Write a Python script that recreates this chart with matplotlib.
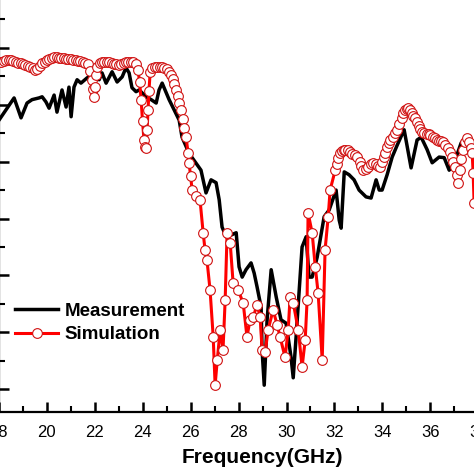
import matplotlib
matplotlib.use("Agg")
import matplotlib.pyplot as plt
from matplotlib.ticker import MultipleLocator

plt.rcParams['font.family'] = ['Liberation Sans', 'DejaVu Sans']

# --- DATA ---
meas_freq = [18.00, 18.63, 18.92, 19.17, 19.38, 19.67, 19.80, 19.96, 20.09, 20.30,
             20.42, 20.63, 20.80, 20.92, 21.01, 21.13, 21.26, 21.42, 21.67, 21.88,
             22.18, 22.30, 22.47, 22.72, 22.93, 23.14, 23.30, 23.43, 23.55, 23.72,
             23.85, 24.14, 24.35, 24.56, 24.68, 24.81, 25.10, 25.31, 25.52, 25.64,
             25.93, 26.06, 26.43, 26.64, 26.85, 27.06, 27.19, 27.31, 27.48, 27.69,
             27.90, 28.02, 28.15, 28.31, 28.52, 28.65, 28.77, 28.94, 28.98, 29.07,
             29.19, 29.36, 29.57, 29.77, 29.98, 30.19, 30.28, 30.40, 30.53, 30.65,
             30.82, 30.94, 31.07, 31.28, 31.57, 31.78, 32.07, 32.20, 32.28, 32.41,
             32.61, 32.82, 33.03, 33.32, 33.53, 33.74, 33.87, 33.99, 34.20, 34.41,
             34.62, 34.91, 35.20, 35.45, 35.62, 35.87, 36.08, 36.37, 36.58, 36.79,
             37.04, 37.29, 37.50, 37.75, 37.90]
meas_val = [-12.7, -8.8, -12.3, -9.7, -9.1, -8.8, -8.6, -9.5, -10.6, -8.3,
            -11.3, -7.4, -10.4, -6.9, -12.1, -6.9, -5.6, -6.2, -5.3, -4.7,
            -5.6, -4.4, -6.2, -4.2, -6.0, -5.1, -3.5, -4.4, -7.0, -7.7,
            -7.4, -8.6, -9.1, -9.7, -7.4, -6.2, -9.1, -10.9, -12.7, -15.7,
            -18.5, -19.3, -21.5, -25.5, -23.2, -23.7, -26.7, -31.5, -33.2, -32.9,
            -32.5, -38.5, -40.3, -39.0, -37.8, -39.6, -42.0, -45.6, -53.1, -59.3,
            -47.8, -39.0, -43.8, -47.8, -48.4, -54.4, -58.0, -50.8, -42.6, -35.0,
            -33.2, -40.3, -40.3, -36.8, -29.7, -28.5, -25.0, -30.3, -31.7, -21.8,
            -22.3, -23.2, -25.0, -26.2, -26.4, -23.2, -25.0, -25.0, -22.3, -19.2,
            -17.1, -14.4, -21.1, -16.2, -15.7, -17.9, -20.2, -19.2, -19.3, -21.5,
            -19.7, -16.7, -15.7, -17.9, -20.0]

sim_freq = [18.00, 18.10, 18.20, 18.30, 18.40, 18.50, 18.60, 18.70, 18.80, 18.90,
            19.00, 19.10, 19.20, 19.30, 19.40, 19.50, 19.60, 19.70, 19.80, 19.90,
            20.00, 20.10, 20.20, 20.30, 20.40, 20.50, 20.60, 20.70, 20.80, 20.90,
            21.00, 21.10, 21.20, 21.30, 21.40, 21.50, 21.60, 21.70, 21.80, 21.88,
            21.93, 21.97, 22.01, 22.05, 22.10, 22.20, 22.30, 22.40, 22.50, 22.60,
            22.70, 22.80, 22.90, 23.00, 23.10, 23.20, 23.30, 23.40, 23.50, 23.60,
            23.70, 23.80, 23.87, 23.93, 23.99, 24.05, 24.10, 24.14, 24.18, 24.22,
            24.26, 24.31, 24.40, 24.50, 24.60, 24.70, 24.80, 24.90, 25.00, 25.10,
            25.18, 25.25, 25.32, 25.39, 25.46, 25.53, 25.60, 25.67, 25.74, 25.81,
            25.89, 25.93, 26.00, 26.06,
            26.22, 26.39, 26.52, 26.60, 26.68, 26.81, 26.94, 27.02, 27.11, 27.23,
            27.35, 27.44, 27.52, 27.65, 27.77, 27.98, 28.19, 28.35, 28.48, 28.61,
            28.77, 28.90, 28.98, 29.11, 29.23, 29.44, 29.61, 29.73, 29.94, 30.07,
            30.15, 30.28, 30.49, 30.65, 30.78, 30.86, 30.90, 31.07, 31.20, 31.32,
            31.49, 31.61, 31.74, 31.82,
            32.03, 32.10, 32.17, 32.24, 32.30, 32.38, 32.45, 32.55, 32.66, 32.75,
            32.85, 32.95, 33.05, 33.12, 33.20, 33.30, 33.41, 33.52, 33.62, 33.72,
            33.82, 33.91, 34.00, 34.06, 34.12, 34.20, 34.27, 34.33, 34.43, 34.52,
            34.62, 34.70, 34.80, 34.87, 34.94, 35.01, 35.08, 35.15, 35.23, 35.30,
            35.37, 35.45, 35.52, 35.59, 35.66, 35.75, 35.85, 35.93, 36.00, 36.10,
            36.20, 36.29, 36.37, 36.45, 36.54, 36.63, 36.73, 36.83, 36.90, 36.97,
            37.04, 37.10, 37.17, 37.24, 37.30, 37.38, 37.46, 37.54, 37.62, 37.70,
            37.75, 37.79, 37.83]
sim_val = [-2.5, -2.4, -2.3, -2.2, -2.1, -2.2, -2.3, -2.4, -2.6, -2.7,
           -2.8, -3.0, -3.1, -3.3, -3.6, -3.9, -3.8, -3.2, -2.7, -2.4,
           -2.1, -1.9, -1.7, -1.6, -1.6, -1.7, -1.7, -1.8, -1.9, -2.0,
           -2.0, -2.1, -2.2, -2.3, -2.3, -2.4, -2.6, -2.8, -4.0, -5.6,
           -7.2, -8.6, -6.8, -4.7, -3.3, -2.6, -2.5, -2.4, -2.4, -2.5,
           -2.6, -2.8, -2.9, -3.0, -2.9, -2.7, -2.5, -2.4, -2.4, -2.5,
           -2.9, -3.9, -6.0, -9.1, -12.8, -16.2, -17.4, -17.6, -14.5, -10.9,
           -7.5, -4.2, -3.6, -3.4, -3.3, -3.3, -3.3, -3.5, -3.8, -4.2,
           -4.7, -5.5, -6.4, -7.4, -8.5, -9.7, -10.9, -12.5, -14.1, -15.7,
           -18.5, -20.2, -22.6, -25.0,
           -26.0, -26.7, -32.5, -35.5, -37.3, -42.6, -50.8, -59.3, -54.9, -49.6,
           -53.1, -44.3, -32.5, -34.3, -41.3, -42.6, -44.8, -50.8, -47.8, -47.3,
           -45.2, -47.3, -53.1, -53.5, -49.6, -46.1, -48.7, -50.8, -54.4, -49.6,
           -43.8, -44.8, -49.6, -56.1, -51.4, -44.3, -29.0, -32.5, -38.5, -43.1,
           -54.9, -35.5, -29.7, -25.0,
           -21.5, -20.4, -19.3, -18.5, -18.2, -18.0, -17.9, -18.0, -18.3, -18.6,
           -18.9, -19.2, -20.0, -20.8, -21.5, -21.3, -20.9, -20.5, -20.2, -20.4,
           -20.7, -20.9, -20.0, -19.2, -18.5, -17.5, -16.8, -16.2, -15.6, -15.0,
           -14.4, -13.4, -12.3, -11.4, -10.9, -10.7, -10.6, -10.9, -11.4, -11.9,
           -12.3, -13.0, -13.8, -14.3, -14.8, -15.0, -15.1, -15.2, -15.3, -15.6,
           -15.9, -16.2, -16.3, -16.4, -16.5, -17.0, -17.6, -18.3, -19.2, -20.0,
           -20.9, -22.3, -23.7, -21.5, -19.5, -17.9, -16.6, -15.8, -16.6, -17.6,
           -18.5, -22.0, -27.3]

# --- PLOT ---
fig = plt.figure(figsize=(4.74, 4.74), dpi=100)
ax = fig.add_axes([-0.0021, 0.131, 1.112, 0.888])

ax.plot(meas_freq, meas_val, color="black", lw=2.5, label="Measurement", zorder=2)
ax.plot(sim_freq, sim_val, color="red", lw=2.2, marker="o", ms=7,
        mfc="white", mec="#d01010", mew=0.8, label="Simulation", zorder=3)

ax.set_xlim(18, 40)
ax.set_ylim(-64, 10)
ax.xaxis.set_major_locator(MultipleLocator(2))
ax.xaxis.set_minor_locator(MultipleLocator(1))
ax.yaxis.set_major_locator(MultipleLocator(10))
ax.yaxis.set_minor_locator(MultipleLocator(5))
ax.tick_params(which="major", direction="in", length=7, width=1.8, labelsize=12, pad=9.5)
ax.tick_params(which="minor", direction="in", length=4, width=1.5)
for s in ax.spines.values():
    s.set_linewidth(1.6)

ax.set_xlabel("Frequency(GHz)", fontsize=15, fontweight="bold", labelpad=5.5)

leg = ax.legend(loc="upper left", bbox_to_anchor=(0.032, 0.361), bbox_transform=fig.transFigure,
                frameon=False, fontsize=13.5, handlelength=2.3, handletextpad=0.32,
                labelspacing=0.33, borderaxespad=0, borderpad=0)
for t in leg.get_texts():
    t.set_fontweight("bold")

fig.savefig("out.png", dpi=100)
